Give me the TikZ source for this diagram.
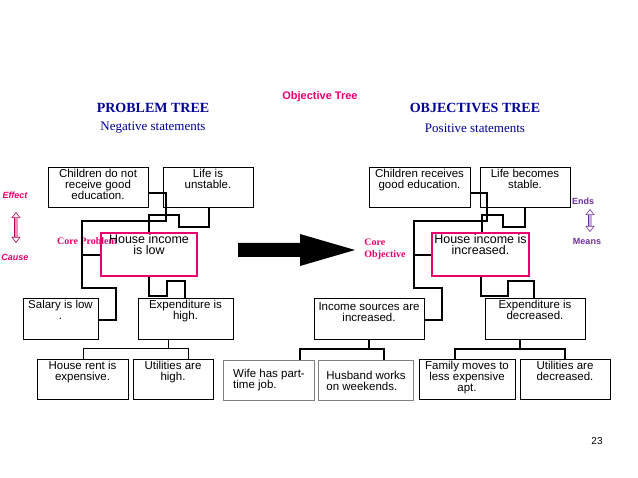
\documentclass[tikz,border=0pt]{standalone}
\usepackage{fontspec}
\setmainfont{Liberation Sans}
\newfontfamily\serif{Liberation Serif}
\usetikzlibrary{arrows.meta}
\definecolor{pinkc}{RGB}{232,0,110}
\definecolor{navyc}{RGB}{0,0,150}
\definecolor{purp}{RGB}{112,48,160}
\tikzset{
  box/.style={draw,line width=1pt,inner sep=0pt,font=\fontsize{11.5}{11}\selectfont},
  core/.style={box,draw=pinkc,line width=2pt,font=\fontsize{12.5}{11}\selectfont},
  conn/.style={line width=1.6pt},
  title/.style={font=\serif\bfseries\fontsize{14}{14}\selectfont,text=navyc},
  sub/.style={font=\serif\fontsize{13}{13}\selectfont,text=navyc},
}
% \mybox{style}{name}{x1}{y1}{x2}{y2}{text}
\newcommand\mybox[7]{%
  \pgfmathsetmacro\bw{#5-#3}\pgfmathsetmacro\bh{#6-#4}%
  \node[#1,minimum width=\bw pt,minimum height=\bh pt] (#2) at ({(#3+#5)/2},{(#4+#6)/2})
    {\parbox[c][\dimexpr\bh pt-2pt\relax][t]{\dimexpr\bw pt-4pt\relax}{\centering #7}};}
\begin{document}
\begin{tikzpicture}[x=1pt,y=-1pt]
\useasboundingbox (0,0) rectangle (638,478);
% titles
\node[font=\bfseries\fontsize{11}{11}\selectfont,text=pinkc] (ot) at (320,97) {Objective Tree};
\node[title] (pt) at (153,108) {PROBLEM TREE};
\node[sub] (ns) at (153,128) {Negative statements};
\node[title] (otr) at (475,108) {OBJECTIVES TREE};
\node[sub] (ps) at (475,128) {Positive statements};
% side labels
\node[font=\bfseries\itshape\fontsize{9}{9}\selectfont,text=pinkc] (ef) at (15,195) {Effect};
\node[font=\bfseries\itshape\fontsize{9}{9}\selectfont,text=pinkc] (ca) at (15,257) {Cause};
\draw[draw=pinkc!80!black,line width=0.6pt,{Triangle[open,length=6pt,width=9pt]}-{Triangle[open,length=6pt,width=9pt]},double=pinkc!45,double distance=3pt] (16,212) -- (16,243);
\node[font=\bfseries\fontsize{9}{9}\selectfont,text=purp] (en) at (583,201) {Ends};
\node[font=\bfseries\fontsize{9}{9}\selectfont,text=purp] (me) at (587,241) {Means};
\draw[draw=purp,line width=0.6pt,{Triangle[open,length=6pt,width=9pt]}-{Triangle[open,length=6pt,width=9pt]},double=purp!40,double distance=3pt] (590,209) -- (590,232);
% boxes, problem tree
\mybox{box}{pc}{48}{168}{148}{208}{Children do not receive good education.}
\mybox{box}{pl}{163}{168}{253}{208}{Life is\\ unstable.}
\mybox{core}{ph}{101}{233}{197}{276}{House income is low}
\node[font=\serif\bfseries\fontsize{10}{10}\selectfont,text=pinkc] (cp) at (87,241) {Core Problem};
\mybox{box}{ps1}{23}{299}{98}{340}{Salary is low\\ .}
\mybox{box}{pe}{138}{299}{233}{340}{Expenditure is high.}
\mybox{box}{pr}{37}{360}{128}{400}{House rent is expensive.}
\mybox{box}{pu}{133}{360}{213}{400}{Utilities are high.}
% boxes, objectives tree
\mybox{box}{oc}{369}{168}{470}{208}{Children receives good education.}
\mybox{box}{ol}{480}{168}{570}{208}{Life becomes stable.}
\mybox{core}{oh}{432}{233}{529}{276}{House income is increased.}
\node[font=\serif\bfseries\fontsize{10}{10}\selectfont,text=pinkc,align=left] (co) at (385,249) {Core\\[2pt]Objective};
\mybox{box}{oi}{314}{299}{424}{340}{\vspace{3pt}Income sources are increased.}
\mybox{box}{oe}{485}{299}{585}{340}{Expenditure is decreased.}
\node[box,draw=gray,minimum width=91pt,minimum height=40pt,align=left,anchor=north west] (ow) at (223,360) {Wife has part-\\time job.};
\node[box,draw=gray,minimum width=95pt,minimum height=40pt,align=left,anchor=north west] (ob) at (318,360) {Husband works\\on weekends.};
\mybox{box}{of}{419}{360}{515}{400}{Family moves to less expensive apt.}
\mybox{box}{ou}{520}{360}{610}{400}{Utilities are decreased.}
% big arrow
\fill (238,243) -- (300,243) -- (300,234) -- (355,250) -- (300,266) -- (300,257) -- (238,257) -- cycle;
% connectors, problem tree
\draw[conn] (pc.east |- 0,193) -- (166,193) -- (166,221) -- (82,221) -- (82,288) -- (116,288) -- (116,320) -- (ps1.east |- 0,320);
\draw[conn] (82,255) -- (ph.west |- 0,255);
\draw[conn] (pl.south -| 209,0) -- (209,227) -- (179,227) -- (179,215) -- (149,215) -- (ph.north -| 149,0);
\draw[conn] (ph.south -| 149,0) -- (149,296) -- (167,296) -- (167,281) -- (185,281) -- (pe.north -| 185,0);
\draw[line width=1pt] (pe.south -| 168,0) -- (168,349) -| (pr.north -| 83,0);
\draw[line width=1pt] (168,349) -| (pu.north -| 188,0);
% connectors, objectives tree
\draw[conn] (oc.east |- 0,193) -- (487,193) -- (487,221) -- (414,221) -- (414,288) -- (442,288) -- (442,320) -- (oi.east |- 0,320);
\draw[conn] (414,255) -- (oh.west |- 0,255);
\draw[conn] (ol.south -| 525,0) -- (525,227) -- (503,227) -- (503,215) -- (482,215) -- (oh.north -| 482,0);
\draw[conn] (oh.south -| 481,0) -- (481,296) -- (508,296) -- (508,281) -- (534,281) -- (oe.north -| 534,0);
\draw[conn] (oi.south -| 369,0) -- (369,349) -| (ow.north -| 300,0);
\draw[conn] (369,349) -| (ob.north -| 384,0);
\draw[conn] (oe.south -| 520,0) -- (520,349) -| (of.north -| 455,0);
\draw[conn] (520,349) -| (ou.north -| 565,0);
% page number
\node[font=\fontsize{10}{10}\selectfont] (pg) at (597,441) {23};
\end{tikzpicture}
\end{document}
